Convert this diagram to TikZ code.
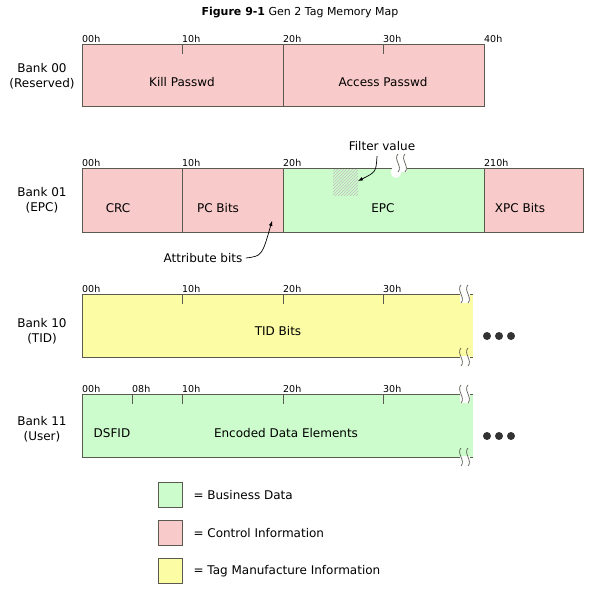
\documentclass[tikz,border=0pt]{standalone}
\usepackage{fontspec}
\setmainfont{DejaVu Sans}
\usetikzlibrary{patterns}
\definecolor{ctrl}{HTML}{F9CACA}
\definecolor{biz}{HTML}{CCFCCC}
\definecolor{mfg}{HTML}{FCFCA4}
\definecolor{edge}{HTML}{5A5A50}
\tikzset{
  cell/.style={draw=edge, line width=0.8pt},
  hexl/.style={font=\fontsize{9.5}{10}\selectfont, anchor=south west, inner sep=1pt},
  txt/.style={font=\fontsize{12}{13}\selectfont},
  bank/.style={font=\fontsize{12}{15}\selectfont, align=center},
  dot/.style={circle, fill=black!80, inner sep=0pt, minimum size=8pt},
}
% break squiggle at (x,y)
\newcommand{\brk}[2]{%
  \fill[white] (#1-5,#2-1) rectangle (#1+5,#2+9);
  \draw[edge, line width=0.7pt] (#1-4,#2-9) .. controls (#1-9,#2-4) and (#1+1,#2+4) .. (#1-4,#2+9);
  \draw[edge, line width=0.7pt] (#1+3,#2-9) .. controls (#1-2,#2-4) and (#1+8,#2+4) .. (#1+3,#2+9);}
\begin{document}
\begin{tikzpicture}[x=1pt, y=-1pt]
\useasboundingbox (0,0) rectangle (600,603);
\node[font=\fontsize{11}{12}\selectfont] (title) at (300,13) {\textbf{Figure 9-1} Gen 2 Tag Memory Map};

% Bank 00
\node[bank] (b00) at (42,76) {Bank 00\\(Reserved)};
\filldraw[cell, fill=ctrl] (82,44) rectangle (283,106);
\filldraw[cell, fill=ctrl] (283,44) rectangle (484,106);
\foreach \x in {182,383} \draw[cell] (\x,44) -- (\x,54);
\foreach \x/\t in {82/00h,182/10h,283/20h,383/30h,484/40h} \node[hexl] at (\x-1,44) {\t};
\node[txt] (kill) at (182,82) {Kill Passwd};
\node[txt] (acc) at (383,82) {Access Passwd};

% Bank 01
\node[bank] (b01) at (42,200) {Bank 01\\(EPC)};
\filldraw[cell, fill=ctrl] (82,168) rectangle (182,232);
\filldraw[cell, fill=ctrl] (182,168) rectangle (283,232);
\filldraw[cell, fill=biz] (283,168) rectangle (484,232);
\filldraw[cell, fill=ctrl] (484,168) rectangle (583,232);
\foreach \x/\t in {82/00h,182/10h,283/20h,484/210h} \node[hexl] at (\x-1,168) {\t};
\node[txt] (crc) at (118,208) {CRC};
\node[txt] (pc) at (218,208) {PC Bits};
\node[txt] (epc) at (383,208) {EPC};
\node[txt] (xpc) at (520,208) {XPC Bits};
\fill[pattern=north east lines, pattern color=black!25] (333,169) rectangle (358,195);
\fill[white] (396,172) ellipse (5 and 6);
\brk{402}{163}
\node[txt] (filt) at (382,146) {Filter value};
\coordinate (filtend) at (358,181);
\draw[-latex, line width=0.7pt] (filt.south) ++(-5,2) .. controls (376,172) .. (filtend);
\node[txt] (attr) at (203,258) {Attribute bits};
\coordinate (attrend) at (272,221);
\draw[-latex, line width=0.7pt] (attr.east) .. controls (262,256) .. (attrend);

% Bank 10
\node[bank] (b10) at (42,331) {Bank 10\\(TID)};
\fill[mfg] (82,294) rectangle (473,357);
\draw[cell] (473,294) -- (82,294) -- (82,357) -- (473,357);
\foreach \x in {182,283,383} \draw[cell] (\x,294) -- (\x,304);
\foreach \x/\t in {82/00h,182/10h,283/20h,383/30h} \node[hexl] at (\x-1,294) {\t};
\node[txt] (tid) at (278,331) {TID Bits};
\brk{465}{294} \brk{465}{357}
\foreach \x in {487,499,511} \node[dot] at (\x,336) {};

% Bank 11
\node[bank] (b11) at (42,429) {Bank 11\\(User)};
\fill[biz] (82,394) rectangle (473,457);
\draw[cell] (473,394) -- (82,394) -- (82,457) -- (473,457);
\foreach \x in {132,182,283,383} \draw[cell] (\x,394) -- (\x,404);
\foreach \x/\t in {82/00h,132/08h,182/10h,283/20h,383/30h} \node[hexl] at (\x-1,394) {\t};
\node[txt] (dsfid) at (112,433) {DSFID};
\node[txt] (ede) at (286,433) {Encoded Data Elements};
\brk{465}{394} \brk{465}{457}
\foreach \x in {487,499,511} \node[dot] at (\x,436) {};

% Legend
\filldraw[cell, fill=biz] (158,482) rectangle (182,507);
\filldraw[cell, fill=ctrl] (158,520) rectangle (182,545);
\filldraw[cell, fill=mfg] (158,558) rectangle (182,583);
\node[txt, anchor=west] (lb) at (190,495) {= Business Data};
\node[txt, anchor=west] (lc) at (190,533) {= Control Information};
\node[txt, anchor=west] (lm) at (190,571) {= Tag Manufacture Information};
\end{tikzpicture}
\end{document}
